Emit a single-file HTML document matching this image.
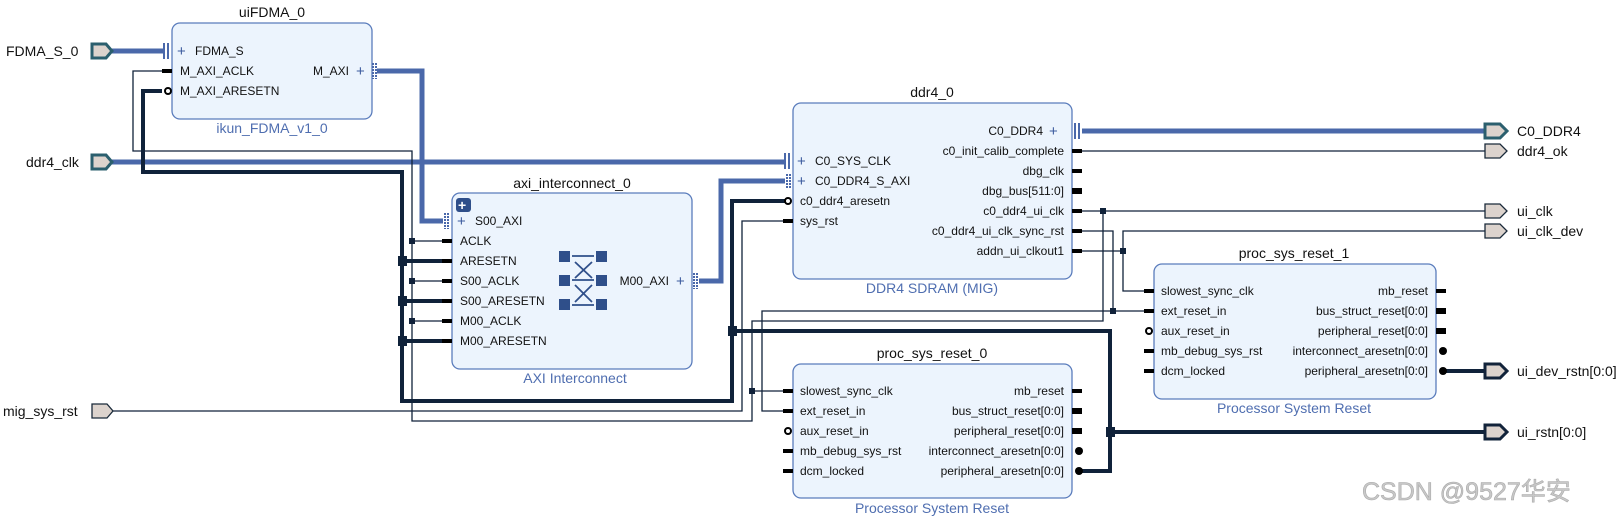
<!DOCTYPE html>
<html><head><meta charset="utf-8"><style>
html,body{margin:0;padding:0;background:#fff;}
svg{display:block;}
text{font-family:"Liberation Sans","Noto Sans CJK SC",sans-serif;fill:#111;}
.p{font-size:12px;}
.t{font-size:14px;text-anchor:middle;}
.s{font-size:14px;text-anchor:middle;fill:#4f6eb0;}
.l{font-size:14px;}
.box{fill:#ecf4fd;stroke:#5a7cbc;stroke-width:1.3;}
.w{stroke:#10223a;stroke-width:1.3;fill:none;}
.tw{stroke:#10223a;stroke-width:4;fill:none;}
.bw{stroke:#4a68aa;stroke-width:5;fill:none;}
.pl{stroke:#3d5c9e;stroke-width:1.3;}
</style></head><body>
<svg width="1621" height="521" viewBox="0 0 1621 521" xmlns="http://www.w3.org/2000/svg">
<defs>
<pattern id="dots" width="3" height="3" patternUnits="userSpaceOnUse"><rect width="2" height="2" fill="#4a68aa"/></pattern>
</defs>

<!-- wires -->
<polyline class="bw" points="112,51 163,51"/>
<polyline class="bw" points="377,71 422,71 422,221 443,221"/>
<polyline class="bw" points="112,162 785,162"/>
<polyline class="bw" points="699,281 721,281 721,181 785,181"/>
<polyline class="bw" points="1082,131 1485,131"/>

<polyline class="w" points="162,71 133,71 133,151 412,151 412,421 752,421 752,321 1103,321 1103,211"/>
<polyline class="w" points="412,241 442,241"/><polyline class="w" points="412,281 442,281"/><polyline class="w" points="412,321 442,321"/>
<polyline class="w" points="752,391 783,391"/>
<polyline class="w" points="113,411 742,411 742,221 783,221"/>
<polyline class="w" points="783,411 762,411 762,311 1144,311"/>
<polyline class="w" points="1082,231 1113,231 1113,311"/>
<polyline class="w" points="1082,211 1485,211"/>
<polyline class="w" points="1082,151 1485,151"/>
<polyline class="w" points="1082,251 1123,251"/>
<polyline class="w" points="1485,231 1123,231 1123,291 1144,291"/>

<polyline class="tw" points="162,91 143,91 143,172 402,172 402,401 732,401 732,201 785,201"/>
<polyline class="tw" points="402,261 442,261"/><polyline class="tw" points="402,301 442,301"/><polyline class="tw" points="402,341 442,341"/>
<polyline class="tw" points="732,331 1110,331 1110,471 1082,471"/>
<polyline class="tw" points="1110,432 1485,432"/>
<polyline class="tw" points="1446,371 1485,371"/>

<!-- junctions -->
<g fill="#10223a">
<rect x="409" y="238" width="6" height="6"/><rect x="409" y="278" width="6" height="6"/><rect x="409" y="318" width="6" height="6"/>
<rect x="398" y="256" width="9" height="10"/><rect x="398" y="296" width="9" height="10"/><rect x="398" y="336" width="9" height="10"/>
<rect x="749" y="388" width="6" height="6"/>
<rect x="1100" y="208" width="6" height="6"/><rect x="1110" y="308" width="6" height="6"/><rect x="1120" y="248" width="6" height="6"/>
<rect x="728" y="326" width="9" height="10"/><rect x="1106" y="427" width="9" height="10"/>
</g>

<!-- external ports -->
<g fill="#dcd3cd">
<polygon points="92,44 106,44 112,51 106,58 92,58" stroke="#2b5f6e" stroke-width="3"/>
<polygon points="92,155 106,155 112,162 106,169 92,169" stroke="#2b5f6e" stroke-width="3"/>
<polygon points="92,404 107,404 113,411 107,418 92,418" stroke="#1a2a3a" stroke-width="1.3"/>
<polygon points="1485,124 1500,124 1507,131 1500,138 1485,138" stroke="#2b5f6e" stroke-width="3"/>
<polygon points="1485,144 1500,144 1507,151 1500,158 1485,158" stroke="#1a2a3a" stroke-width="1.3"/>
<polygon points="1485,204 1500,204 1507,211 1500,218 1485,218" stroke="#1a2a3a" stroke-width="1.3"/>
<polygon points="1485,224 1500,224 1507,231 1500,238 1485,238" stroke="#1a2a3a" stroke-width="1.3"/>
<polygon points="1485,364 1500,364 1507,371 1500,378 1485,378" stroke="#12233a" stroke-width="3"/>
<polygon points="1485,425 1500,425 1507,432 1500,439 1485,439" stroke="#12233a" stroke-width="3"/>
</g>
<text class="l" x="6" y="56">FDMA_S_0</text>
<text class="l" x="26" y="167">ddr4_clk</text>
<text class="l" x="3" y="416">mig_sys_rst</text>
<text class="l" x="1517" y="136">C0_DDR4</text>
<text class="l" x="1517" y="156">ddr4_ok</text>
<text class="l" x="1517" y="216">ui_clk</text>
<text class="l" x="1517" y="236">ui_clk_dev</text>
<text class="l" x="1517" y="376">ui_dev_rstn[0:0]</text>
<text class="l" x="1517" y="437">ui_rstn[0:0]</text>

<!-- uiFDMA -->
<text class="t" x="272" y="17">uiFDMA_0</text>
<rect class="box" x="172" y="23" width="200" height="96" rx="8"/>
<rect x="163" y="43" width="2" height="16" fill="#4a68aa"/><rect x="167" y="43" width="2" height="16" fill="#4a68aa"/>
<text class="p" x="177" y="56" fill="#3d5c9e" style="fill:#3d5c9e;font-size:15px">+</text>
<text class="p" x="195" y="55">FDMA_S</text>
<rect x="162" y="69" width="10" height="4" fill="#000"/>
<text class="p" x="180" y="75">M_AXI_ACLK</text>
<circle cx="168" cy="91" r="3" fill="#fff" stroke="#000" stroke-width="2"/>
<text class="p" x="180" y="95">M_AXI_ARESETN</text>
<text class="p" x="349" y="75" text-anchor="end">M_AXI</text>
<text x="356" y="76" style="fill:#3d5c9e;font-size:15px">+</text>
<rect x="372" y="63" width="6" height="16" fill="url(#dots)"/>
<text class="s" x="272" y="133">ikun_FDMA_v1_0</text>

<!-- interconnect -->
<text class="t" x="572" y="188">axi_interconnect_0</text>
<rect class="box" x="452" y="193" width="240" height="176" rx="8"/>
<rect x="456" y="198" width="15" height="14" rx="3" fill="#2f4f8a"/>
<text x="458" y="210" style="fill:#fff;font-size:14px;font-weight:bold">+</text>
<rect x="443" y="213" width="6" height="16" fill="url(#dots)"/>
<text x="457" y="226" style="fill:#3d5c9e;font-size:15px">+</text>
<text class="p" x="475" y="225">S00_AXI</text>
<g fill="#000">
<rect x="442" y="239" width="10" height="4"/><rect x="442" y="259" width="10" height="4"/><rect x="442" y="279" width="10" height="4"/>
<rect x="442" y="299" width="10" height="4"/><rect x="442" y="319" width="10" height="4"/><rect x="442" y="339" width="10" height="4"/>
</g>
<text class="p" x="460" y="245">ACLK</text>
<text class="p" x="460" y="265">ARESETN</text>
<text class="p" x="460" y="285">S00_ACLK</text>
<text class="p" x="460" y="305">S00_ARESETN</text>
<text class="p" x="460" y="325">M00_ACLK</text>
<text class="p" x="460" y="345">M00_ARESETN</text>
<g fill="#2f4f8a">
<rect x="559" y="251" width="11" height="11"/><rect x="596" y="251" width="11" height="11"/>
<rect x="559" y="275" width="11" height="11"/><rect x="596" y="275" width="11" height="11"/>
<rect x="559" y="299" width="11" height="11"/><rect x="596" y="299" width="11" height="11"/>
</g>
<g stroke="#2f4f8a" stroke-width="1.8">
<line x1="572" y1="256" x2="594" y2="256"/><line x1="572" y1="280" x2="594" y2="280"/><line x1="572" y1="305" x2="594" y2="305"/>
<line x1="575" y1="262" x2="592" y2="278"/><line x1="592" y1="262" x2="575" y2="278"/>
<line x1="575" y1="285" x2="592" y2="302"/><line x1="592" y1="285" x2="575" y2="302"/>
</g>
<text class="p" x="669" y="285" text-anchor="end">M00_AXI</text>
<text x="676" y="286" style="fill:#3d5c9e;font-size:15px">+</text>
<rect x="692" y="273" width="6" height="16" fill="url(#dots)"/>
<text class="s" x="575" y="383">AXI Interconnect</text>

<!-- ddr4 -->
<text class="t" x="932" y="97">ddr4_0</text>
<rect class="box" x="793" y="103" width="279" height="176" rx="8"/>
<rect x="784" y="153" width="2" height="16" fill="#4a68aa"/><rect x="788" y="153" width="2" height="16" fill="#4a68aa"/>
<rect x="785" y="173" width="6" height="16" fill="url(#dots)"/>
<text x="797" y="166" style="fill:#3d5c9e;font-size:15px">+</text>
<text x="797" y="186" style="fill:#3d5c9e;font-size:15px">+</text>
<text class="p" x="815" y="165">C0_SYS_CLK</text>
<text class="p" x="815" y="185">C0_DDR4_S_AXI</text>
<circle cx="788" cy="201" r="3" fill="#fff" stroke="#000" stroke-width="2"/>
<text class="p" x="800" y="205">c0_ddr4_aresetn</text>
<rect x="783" y="219" width="10" height="4" fill="#000"/>
<text class="p" x="800" y="225">sys_rst</text>
<text class="p" x="1043" y="135" text-anchor="end">C0_DDR4</text>
<text x="1049" y="136" style="fill:#3d5c9e;font-size:15px">+</text>
<rect x="1074" y="123" width="2" height="16" fill="#4a68aa"/><rect x="1078" y="123" width="2" height="16" fill="#4a68aa"/>
<g fill="#000">
<rect x="1072" y="149" width="10" height="4"/><rect x="1072" y="169" width="10" height="4"/><rect x="1072" y="188" width="10" height="6"/>
<rect x="1072" y="209" width="10" height="4"/><rect x="1072" y="229" width="10" height="4"/><rect x="1072" y="249" width="10" height="4"/>
</g>
<g class="p" text-anchor="end">
<text class="p" x="1064" y="155" text-anchor="end">c0_init_calib_complete</text>
<text class="p" x="1064" y="175" text-anchor="end">dbg_clk</text>
<text class="p" x="1064" y="195" text-anchor="end">dbg_bus[511:0]</text>
<text class="p" x="1064" y="215" text-anchor="end">c0_ddr4_ui_clk</text>
<text class="p" x="1064" y="235" text-anchor="end">c0_ddr4_ui_clk_sync_rst</text>
<text class="p" x="1064" y="255" text-anchor="end">addn_ui_clkout1</text>
</g>
<text class="s" x="932" y="293">DDR4 SDRAM (MIG)</text>

<!-- psr0 -->
<text class="t" x="932" y="358">proc_sys_reset_0</text>
<rect class="box" x="793" y="364" width="279" height="134" rx="8"/>
<g fill="#000">
<rect x="783" y="389" width="10" height="4"/><rect x="783" y="409" width="10" height="4"/>
<rect x="783" y="449" width="10" height="4"/><rect x="783" y="469" width="10" height="4"/>
<rect x="1072" y="389" width="10" height="4"/><rect x="1072" y="408" width="10" height="6"/><rect x="1072" y="428" width="10" height="6"/>
<circle cx="1079" cy="451" r="4"/><circle cx="1079" cy="471" r="4"/>
</g>
<circle cx="788" cy="431" r="3" fill="#fff" stroke="#000" stroke-width="2"/>
<text class="p" x="800" y="395">slowest_sync_clk</text>
<text class="p" x="800" y="415">ext_reset_in</text>
<text class="p" x="800" y="435">aux_reset_in</text>
<text class="p" x="800" y="455">mb_debug_sys_rst</text>
<text class="p" x="800" y="475">dcm_locked</text>
<text class="p" x="1064" y="395" text-anchor="end">mb_reset</text>
<text class="p" x="1064" y="415" text-anchor="end">bus_struct_reset[0:0]</text>
<text class="p" x="1064" y="435" text-anchor="end">peripheral_reset[0:0]</text>
<text class="p" x="1064" y="455" text-anchor="end">interconnect_aresetn[0:0]</text>
<text class="p" x="1064" y="475" text-anchor="end">peripheral_aresetn[0:0]</text>
<text class="s" x="932" y="513">Processor System Reset</text>

<!-- psr1 -->
<text class="t" x="1294" y="258">proc_sys_reset_1</text>
<rect class="box" x="1154" y="264" width="282" height="135" rx="8"/>
<g fill="#000">
<rect x="1144" y="289" width="10" height="4"/><rect x="1144" y="309" width="10" height="4"/>
<rect x="1144" y="349" width="10" height="4"/><rect x="1144" y="369" width="10" height="4"/>
<rect x="1436" y="289" width="10" height="4"/><rect x="1436" y="308" width="10" height="6"/><rect x="1436" y="328" width="10" height="6"/>
<circle cx="1443" cy="351" r="4"/><circle cx="1443" cy="371" r="4"/>
</g>
<circle cx="1149" cy="331" r="3" fill="#fff" stroke="#000" stroke-width="2"/>
<text class="p" x="1161" y="295">slowest_sync_clk</text>
<text class="p" x="1161" y="315">ext_reset_in</text>
<text class="p" x="1161" y="335">aux_reset_in</text>
<text class="p" x="1161" y="355">mb_debug_sys_rst</text>
<text class="p" x="1161" y="375">dcm_locked</text>
<text class="p" x="1428" y="295" text-anchor="end">mb_reset</text>
<text class="p" x="1428" y="315" text-anchor="end">bus_struct_reset[0:0]</text>
<text class="p" x="1428" y="335" text-anchor="end">peripheral_reset[0:0]</text>
<text class="p" x="1428" y="355" text-anchor="end">interconnect_aresetn[0:0]</text>
<text class="p" x="1428" y="375" text-anchor="end">peripheral_aresetn[0:0]</text>
<text class="s" x="1294" y="413">Processor System Reset</text>

<text x="1362" y="500" style="font-size:25px;fill:#c8c8c8;stroke:#aaa;stroke-width:0.6">CSDN @9527华安</text>
</svg>
</body></html>
